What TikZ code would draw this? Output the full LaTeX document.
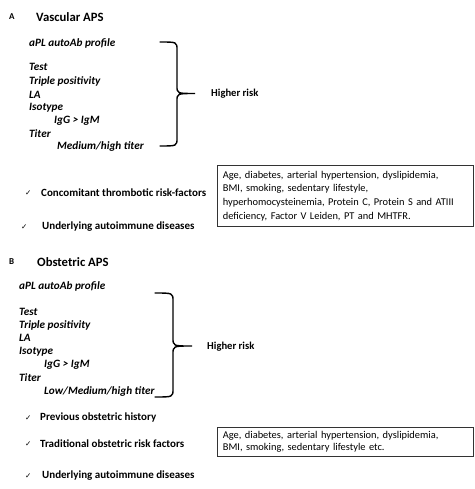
\documentclass[tikz,border=0pt]{standalone}
\usepackage{fontspec}
\setmainfont{Carlito}
\newfontfamily\dejavu{DejaVu Sans}
\begin{document}
\begin{tikzpicture}[x=1pt,y=-1pt,
  txt/.style={anchor=west,inner sep=0pt,font=\fontsize{11}{13}\selectfont},
  bi/.style={txt,font=\fontsize{11.2}{13}\selectfont\bfseries\itshape},
  bd/.style={txt,font=\fontsize{10.6}{13}\selectfont\bfseries},
  item/.style={txt,font=\fontsize{11}{13}\selectfont\bfseries},
  ttl/.style={txt,font=\fontsize{12.7}{15}\selectfont\bfseries},
  lbl/.style={txt,font=\fontsize{9}{10}\selectfont\bfseries},
  chk/.style={txt,font=\dejavu\fontsize{7.5}{8}\selectfont},
  infobox/.style={draw=black!80,line width=0.7pt,anchor=north west,align=left,
    text width=245pt,inner xsep=5.5pt,inner ysep=0pt,minimum width=251pt},
  bracepath/.style={line width=1.4pt,line cap=round}]
\useasboundingbox (0,0) rectangle (474,489);

% ---------- A ----------
\node[lbl] (A) at (9,17) {A};
\node[ttl] (tA) at (36,17) {Vascular APS};
\node[bi] (a1) at (29,43) {aPL autoAb profile};
\node[bi] (a2) at (29,67) {Test};
\node[bi] (a3) at (29,81) {Triple positivity};
\node[bi] (a4) at (29,95) {LA};
\node[bi] (a5) at (29,108) {Isotype};
\node[bi] (a6) at (54,121) {IgG > IgM};
\node[bi] (a7) at (29,134) {Titer};
\node[bi] (a8) at (57,147) {Medium/high titer};
\coordinate (bAt) at (160,42);
\coordinate (bAm) at (195,93.5);
\coordinate (bAb) at (160,146);
\draw[bracepath] (bAt) .. controls (177,42) .. (177,50) -- (177,86) .. controls (177,93.5) .. (bAm)
  .. controls (177,93.5) .. (177,101) -- (177,138) .. controls (177,146) .. (bAb);
\node[bd] (hA) at (211,93.5) {Higher risk};
\node[infobox,minimum height=61pt,font=\fontsize{10.4}{13.6}\selectfont] (boxA) at (217,165)
  {Age, diabetes, arterial hypertension, dyslipidemia,\\BMI, smoking, sedentary lifestyle,\\hyperhomocysteinemia, Protein C, Protein S and ATIII\\deficiency, Factor V Leiden, PT and MHTFR.};
\node[chk] (cA1) at (25,193) {✓};
\node[item] (rA1) at (41,193) {Concomitant thrombotic risk-factors};
\node[chk] (cA2) at (21,227) {✓};
\node[item] (rA2) at (42,227) {Underlying autoimmune diseases};

% ---------- B ----------
\node[lbl] (B) at (9,262) {B};
\node[ttl] (tB) at (37,262) {Obstetric APS};
\node[bi] (b1) at (19,286) {aPL autoAb profile};
\node[bi] (b2) at (19,312) {Test};
\node[bi] (b3) at (19,325) {Triple positivity};
\node[bi] (b4) at (19,338) {LA};
\node[bi] (b5) at (19,352) {Isotype};
\node[bi] (b6) at (44,365) {IgG > IgM};
\node[bi] (b7) at (19,378) {Titer};
\node[bi] (b8) at (44,392) {Low/Medium/high titer};
\coordinate (bBt) at (155,293);
\coordinate (bBm) at (192,346);
\coordinate (bBb) at (155,397);
\draw[bracepath] (bBt) .. controls (173,293) .. (173,301) -- (173,338) .. controls (173,346) .. (bBm)
  .. controls (173,346) .. (173,354) -- (173,389) .. controls (173,397) .. (bBb);
\node[bd] (hB) at (207,347) {Higher risk};
\node[chk] (cB1) at (25,418) {✓};
\node[item] (rB1) at (40,418) {Previous obstetric history};
\node[chk] (cB2) at (25,444) {✓};
\node[item] (rB2) at (40,444) {Traditional obstetric risk factors};
\node[infobox,minimum height=29pt,font=\fontsize{10.4}{12.5}\selectfont] (boxB) at (217,427)
  {Age, diabetes, arterial hypertension, dyslipidemia,\\BMI, smoking, sedentary lifestyle etc.};
\node[chk] (cB3) at (25,476) {✓};
\node[item] (rB3) at (42,476) {Underlying autoimmune diseases};
\end{tikzpicture}
\end{document}
